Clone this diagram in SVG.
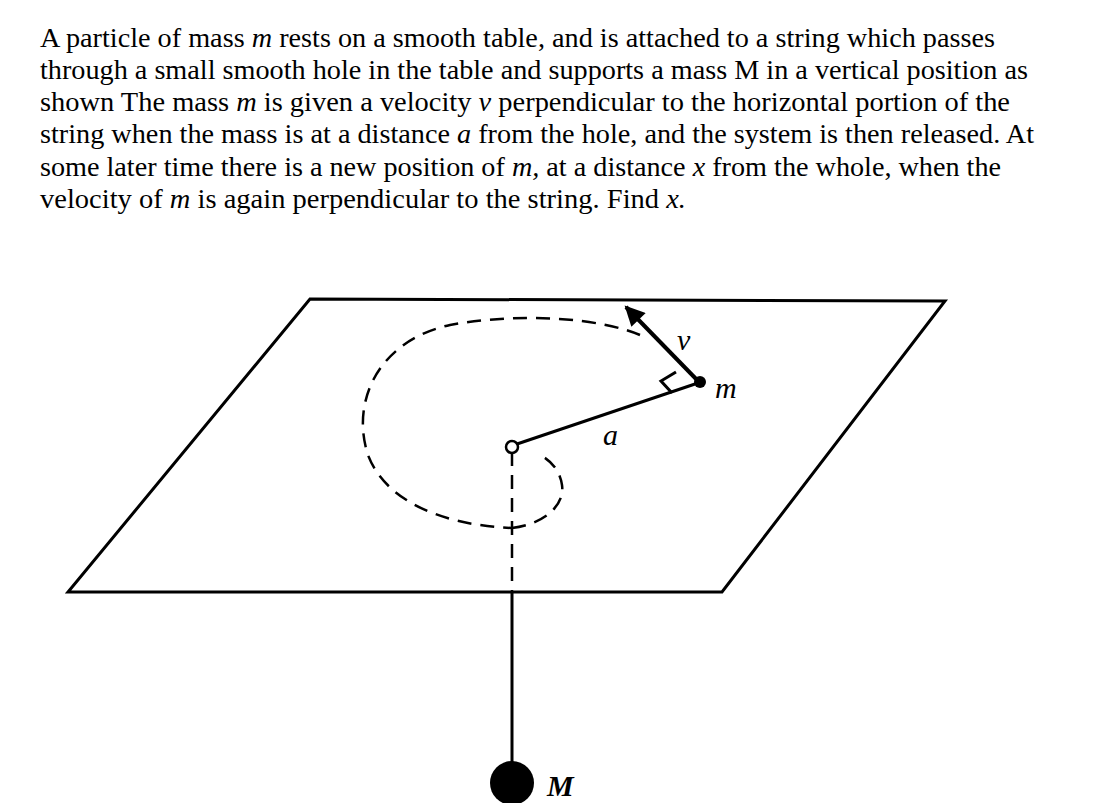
<svg xmlns="http://www.w3.org/2000/svg" width="1094" height="803" viewBox="0 0 1094 803">
<style>
.t{font-family:"Liberation Serif",serif;font-size:28px;fill:#000}
.l{stroke:#000;fill:none;stroke-width:3}
.d{stroke:#000;fill:none;stroke-width:2.5;stroke-dasharray:14 9}
.lab{font-family:"Liberation Serif",serif;font-style:italic;font-size:30px}
</style>
<defs><marker id="ah" viewBox="0 0 10 10" refX="9" refY="5" markerWidth="6" markerHeight="5" orient="auto"><path d="M0,0L10,5L0,10z"/></marker></defs>
<rect width="1094" height="803" fill="#fff"/>
<g id="text" class="t">
<text x="40" y="47" textLength="955" lengthAdjust="spacingAndGlyphs">A particle of mass <tspan font-style="italic">m</tspan> rests on a smooth table, and is attached to a string which passes</text>
<text x="40" y="79" textLength="988" lengthAdjust="spacingAndGlyphs">through a small smooth hole in the table and supports a mass M in a vertical position as</text>
<text x="40" y="111" textLength="970" lengthAdjust="spacingAndGlyphs">shown The mass <tspan font-style="italic">m</tspan> is given a velocity <tspan font-style="italic">v</tspan> perpendicular to the horizontal  portion of the</text>
<text x="40" y="143" textLength="994" lengthAdjust="spacingAndGlyphs">string when the mass is at a distance <tspan font-style="italic">a</tspan> from the hole, and the system is then released. At</text>
<text x="40" y="176" textLength="961" lengthAdjust="spacingAndGlyphs">some later time there is a new position of <tspan font-style="italic">m,</tspan> at a distance <tspan font-style="italic">x</tspan> from the whole, when the</text>
<text x="40" y="208" textLength="646" lengthAdjust="spacingAndGlyphs">velocity  of <tspan font-style="italic">m</tspan> is again perpendicular to the string. Find <tspan font-style="italic">x.</tspan></text>
</g>
<g id="table"><path class="l" d="M310,299 L945,301 L722,592 L68,592 Z"/></g>
<g id="connectors">
<path class="d" d="M640,335 C600,318 520,312 450,325 C380,340 350,400 368,455 C385,500 440,525 512,528"/>
<path class="d" d="M512,528 C545,524 565,505 562,485 C560,470 550,460 540,455"/>
<line class="d" x1="512" y1="452" x2="512" y2="592"/>
<line class="l" x1="512" y1="592" x2="512" y2="770"/>
<line class="l" stroke-width="3.5" x1="517" y1="444" x2="698" y2="383"/>
<line x1="700" y1="383" x2="626" y2="307" stroke="#000" stroke-width="4" marker-end="url(#ah)"/>
<path class="l" stroke-width="2.5" d="M676,372 L661,381 L672,393"/>
</g>
<g id="hole"><circle cx="512" cy="447" r="6" fill="#fff" stroke="#000" stroke-width="2.5"/></g>
<g id="m"><circle cx="700" cy="382" r="6" fill="#000"/><text class="lab" x="715" y="398">m</text></g>
<text class="lab" x="677" y="350">v</text>
<text class="lab" x="603" y="445">a</text>
<g id="M"><circle cx="512" cy="783" r="22" fill="#000"/><text class="lab" x="547" y="796" font-weight="bold" font-size="28">M</text></g>
</svg>
